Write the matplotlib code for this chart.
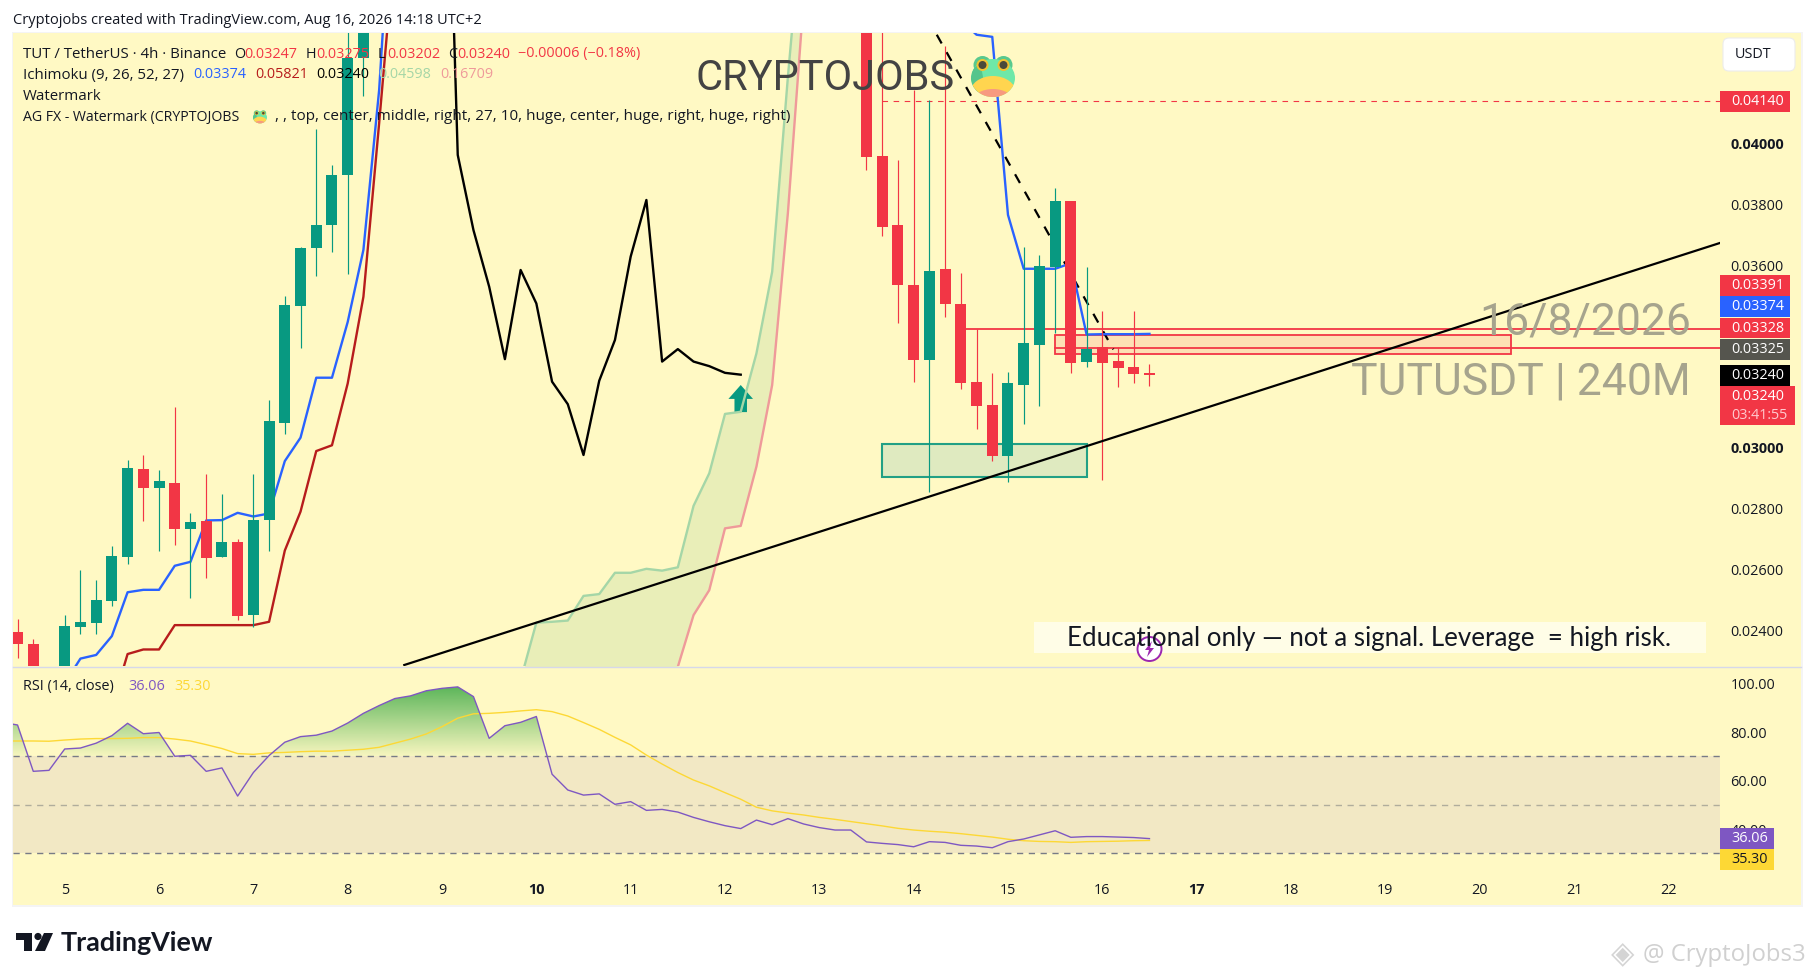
import matplotlib
matplotlib.use('Agg')
import matplotlib.pyplot as plt
import numpy as np
from matplotlib.patches import Rectangle, Ellipse, Circle, Polygon, FancyBboxPatch
from matplotlib.path import Path

plt.rcParams['font.family'] = ['Open Sans', 'DejaVu Sans']

W, H = 1814, 980
GREEN, RED = '#089981', '#f23645'
PANEL = '#fff9c4'
INK = '#131722'

# candles (bar 0 = Aug 5 00:00, 4h bars), only the ones that show on screen
barIdx = [-3, -2, -1, 0, 1, 2, 3, 4, 5, 6, 7, 8, 9, 10, 11, 12, 13, 14, 15, 16, 17, 18, 19,
          51, 52, 53, 54, 55, 56, 57, 58, 59, 60, 61, 62, 63, 64, 65, 66, 67, 68, 69]
opens = [.02394, .02355, .0222, .0226, .02412, .02425, .02497, .02642, .0293, .02869, .02884, .02734, .02759,
         .02642, .0269, .0245, .02764, .03082, .03467, .03657, .03732, .03896, .0428,
         .0460, .03958, .03732, .03535, .03288, .03587, .03472, .03216, .0314, .02974, .03206, .03337, .03594,
         .03811, .03283, .0333, .03285, .03265, .03247]
closes = [.02356, .0226, .0225, .02414, .02427, .025, .02644, .02933, .02869, .02891, .02734, .02756, .02639,
          .0269, .02448, .02762, .03088, .03469, .03657, .03732, .03896, .0428, .0455,
          .03956, .03726, .03535, .03288, .0358, .03472, .03214, .03138, .02974, .03212, .03344, .03597, .03811,
          .03279, .03324, .03279, .03263, .03243, .0324]
highs = [.02436, .02371, .0226, .0245, .02598, .02565, .02677, .0296, .02976, .02927, .03134, .02785, .02914,
         .02848, .027, .02914, .03157, .03498, .0366, .04047, .03929, .0443, .046,
         .047, .0445, .03945, .04175, .04142, .0432, .03573, .0339, .03244, .03249, .03658, .03633, .03852,
         .03811, .03594, .03449, .03332, .03449, .03275]
lows = [.0231, .0222, .0218, .0224, .02389, .02389, .02481, .02619, .02759, .02661, .0268, .02506, .02572,
        .02642, .02434, .02412, .02659, .03046, .03328, .03565, .03644, .03571, .04156,
        .03912, .03697, .03411, .03217, .02855, .0343, .03192, .03062, .02957, .02888, .03079, .03138, .03378,
        .03246, .03266, .02894, .032, .03214, .03202]

# ichimoku
tenkanBars = [0, 1, 2, 3, 4, 5, 6, 7, 8, 9, 10, 11, 12, 13, 14, 15, 16, 17, 18, 19, 20, 21]
tenkan = [.02226, .02307, .02319, .02381, .02525, .02533, .02533, .02612, .02625, .02761, .02762, .02786,
          .02774, .02784, .02956, .03033, .0323, .0323, .03413, .0365, .04175, .05]
tenkanBars2 = [57, 58, 59, 60, 61, 62, 63, 64, 65, 66, 67, 68, 69]
tenkan2 = [.04405, .04357, .0435, .03765, .03588, .03588, .03588, .03606, .03372, .03373, .03373, .03373, .03374]
kijunBars = [3, 4, 5, 6, 7, 8, 9, 10, 11, 12, 13, 14, 15, 16, 17, 18, 19, 20, 21]
kijun = [.02149, .02322, .02337, .02337, .02417, .02417, .02417, .02417, .02417, .02417, .02428, .02662,
         .0279, .02989, .03008, .03211, .03496, .04066, .0466]
chikouBars = [24, 25, 26, 27, 28, 29, 30, 31, 32, 33, 34, 35, 36, 37, 38, 39, 40, 41, 42, 43]
chikou = [.0568, .03962, .03715, .03529, .03291, .03584, .03474, .03217, .03143, .02976, .0322, .03354,
          .03628, .03814, .03283, .03324, .03283, .03268, .03246, .0324]
spanBars = [29, 30, 31, 32, 33, 34, 35, 36, 37, 38, 39, 40, 41, 42, 43, 44, 45, 46, 47]
spanA = [.02237, .02425, .02428, .02432, .02513, .02519, .02589, .02589, .02602, .02596, .02607, .02809,
         .02916, .03111, .03118, .0331, .03578, .04218, .048]
spanB = [.0215, .0215, .0215, .0215, .0215, .0215, .0215, .0215, .0215, .0222, .0228, .0245, .02532, .02735,
         .02743, .02938, .03206, .03771, .04471]

# rsi, bars -4 to 69
rsiBars = list(range(-4, 70))
rsi = [84, 82.9, 63.8, 64.2, 73, 73.4, 75.4, 78.5, 83.6, 79.3, 79.8, 70, 70.4, 63.8, 65.2, 53.6, 63.3, 70.3,
       75.8, 78.1, 78.7, 80.4, 83.7, 87.7, 90.9, 93.8, 94.9, 97, 98, 98.6, 94.6, 77.4, 82.6, 84, 86.4, 62.6,
       56.1, 54, 54.5, 50.2, 51.3, 47.7, 48.1, 47, 44.8, 43, 41.4, 40.2, 43.7, 41.8, 44.3, 42.1, 40.6, 39.6,
       39.6, 34.7, 34.1, 33.6, 32.7, 34.8, 34.5, 33.3, 33, 32.3, 34.8, 35.9, 37.6, 39.3, 36.6, 36.9, 36.9,
       36.7, 36.5, 36.06]
rsiMa = [76.3, 76.3, 76.3, 76.2, 76.7, 77.1, 77.3, 77.3, 77.4, 77.7, 77.7, 77.1, 76.3, 74.8, 73.2, 71.1, 70.8,
         71.4, 71.6, 71.9, 72.1, 72.1, 72.5, 72.9, 73.7, 75.4, 77.1, 79.2, 82.2, 85.7, 87.5, 87.7, 88.1, 88.7,
         89.2, 88.4, 86.6, 83.9, 81.1, 77.8, 74.7, 70.5, 66.8, 63.3, 60.2, 57.8, 55, 52.3, 49, 47.5, 46.6, 45.8,
         44.8, 44, 43.1, 42.2, 41.3, 40.3, 39.6, 39.1, 38.7, 38.1, 37.4, 36.7, 35.8, 35.2, 34.9, 34.8, 34.5,
         34.8, 34.9, 35, 35.2, 35.3]

# drawings
trendBars, trendPrices = [21.6, 105.3], [.02286, .03673]
dashBars, dashPrices = [55.47, 66.7], [.04357, .03323]
level414 = .0414
levelTop, levelLow = .0339, .03328
orangeBox = (63, 92, .03308, .0337)
greenBox = (52, 65, .02904, .03012)

# axis labels
days = [5, 6, 7, 8, 9, 10, 11, 12, 13, 14, 15, 16, 17, 18, 19, 20, 21, 22]
boldDays = [10, 17]
priceTicks = [.024, .026, .028, .030, .036, .038, .040]
boldPrices = [.030, .040]
rsiTicks = [40, 60, 80, 100]
# text, colour, top px, bottom px
priceTags = [('0.04140', RED, 91, 112), ('0.03391', RED, 275, 295.7), ('0.03374', '#2962ff', 295.7, 316.7),
             ('0.03328', RED, 317.7, 338.3), ('0.03325', '#55554e', 339.3, 360), ('0.03240', '#000000', 365, 386)]


def axesAt(left, top, right, bottom, **kw):
    return fig.add_axes([left / W, 1 - bottom / H, (right - left) / W, (bottom - top) / H], **kw)


fig = plt.figure(figsize=(W / 100, H / 100), dpi=100, facecolor='white')

# background layer, everything is in pixels here
bg = axesAt(0, 0, W, H, zorder=0)
bg.set_xlim(0, W)
bg.set_ylim(H, 0)
bg.axis('off')
bg.add_patch(Rectangle((12, 32), 1791, 875, fc='#f4f4f4', ec='none'))
bg.add_patch(Rectangle((13, 33), 1788, 872, fc=PANEL, ec='none'))

xMin, xMax = -3.289, 105.29
ax = axesAt(13, 33, 1720, 666, zorder=1)
ax.set_facecolor('none')
ax.set_xlim(xMin, xMax)
ax.set_ylim(.022827, .043627)
for s in ax.spines.values():
    s.set_visible(False)
ax.set_xticks([])
ax.yaxis.tick_right()
ax.set_yticks(priceTicks)
ax.set_yticklabels(['%.5f' % p for p in priceTicks], fontsize=10.4, color=INK)
ax.tick_params(axis='y', length=0, pad=7.5)
for lab, p in zip(ax.get_yticklabels(), priceTicks):
    if p in boldPrices:
        lab.set_fontweight('bold')

# cloud
ax.fill_between(spanBars, spanA, spanB, color='#e9eeb8', lw=0, zorder=1)
ax.plot(spanBars, spanB, color='#ef9a9a', lw=1.7, zorder=2.2)
ax.plot(spanBars, spanA, color='#a5d6a7', lw=1.7, zorder=2.2)
ax.plot(chikouBars, chikou, color='black', lw=1.7, zorder=2)
ax.plot(kijunBars, kijun, color='#b71c1c', lw=1.7, zorder=2)
ax.plot(tenkanBars, tenkan, color='#2962ff', lw=1.7, zorder=2)
ax.plot(tenkanBars2, tenkan2, color='#2962ff', lw=1.7, zorder=2)

# boxes and levels
ax.add_patch(Rectangle((greenBox[0], greenBox[2]), greenBox[1] - greenBox[0], greenBox[3] - greenBox[2],
                       fc='#dfeac0', ec='#22a085', lw=1.5, zorder=1.5))
ax.add_patch(Rectangle((orangeBox[0], orangeBox[2]), orangeBox[1] - orangeBox[0], orangeBox[3] - orangeBox[2],
                       fc='#fde0b4', ec=RED, lw=1.3, zorder=1.5))
ax.plot([52, xMax], [level414, level414], color=RED, lw=.8, dashes=(5, 5), zorder=1.8)
ax.plot([57.3, xMax], [levelTop, levelTop], color=RED, lw=1.3, zorder=1.8)
ax.plot([63, xMax], [levelLow, levelLow], color=RED, lw=1.3, zorder=1.8)
ax.plot(dashBars, dashPrices, color='black', lw=1.6, dashes=(4.5, 4.5), zorder=1.9)
ax.plot(trendBars, trendPrices, color='black', lw=1.6, zorder=3.5)

# arrow from the chart drawings
arrow = ax.annotate('', xy=(43, .03206), xytext=(43, .03117),
                    arrowprops=dict(width=9, headwidth=17.7, headlength=10, shrink=0, fc=GREEN, ec='none'))
arrow.set_zorder(1.9)

# candles
for i, o, c, h, l in zip(barIdx, opens, closes, highs, lows):
    col = GREEN if c >= o else RED
    ax.vlines(i, l, h, color=col, lw=.85, zorder=3)
    ax.bar(i, abs(c - o), bottom=min(o, c), width=.7, color=col, lw=0, zorder=3)

# rsi pane
rx = axesAt(13, 667, 1720, 872, zorder=1)
rx.set_facecolor('none')
rx.set_xlim(xMin, xMax)
rx.set_ylim(22.3, 106.8)
for s in rx.spines.values():
    s.set_visible(False)
rx.axhspan(30, 70, color='#f2e8c4', lw=0, zorder=1)
for lvl, col in [(70, '#787b86'), (50, '#b0ad9c'), (30, '#787b86')]:
    rx.axhline(lvl, color=col, lw=1, dashes=(4.5, 4), zorder=1.5)

rsiArr = np.array(rsi)
poly = rx.fill_between(rsiBars, 70, rsiArr, where=rsiArr >= 70, interpolate=True, fc='none', lw=0)
grad = np.zeros((100, 2, 4))
grad[..., 0] = 76 / 255
grad[..., 1] = 175 / 255
grad[..., 2] = 80 / 255
grad[..., 3] = np.linspace(.95, .05, 100)[:, None]
img = rx.imshow(grad, extent=[xMin, xMax, 70, 100], origin='upper', aspect='auto', zorder=2)
clip = Path.make_compound_path(*poly.get_paths())
img.set_clip_path(clip, transform=rx.transData)
rx.set_xlim(xMin, xMax)
rx.set_ylim(22.3, 106.8)

rx.plot(rsiBars, rsiMa, color='#fdd835', lw=1, zorder=3)
rx.plot(rsiBars, rsi, color='#7e57c2', lw=1, zorder=3.2)

rx.yaxis.tick_right()
rx.set_yticks(rsiTicks)
rx.set_yticklabels(['%.2f' % v for v in rsiTicks], fontsize=10.4, color=INK)
rx.tick_params(axis='y', length=0, pad=7.5)
rx.set_xticks([(d - 5) * 6 for d in days])
rx.set_xticklabels([str(d) for d in days], fontsize=10.4, color=INK)
rx.tick_params(axis='x', length=0, pad=8)
for lab, d in zip(rx.get_xticklabels(), days):
    if d in boldDays:
        lab.set_fontweight('bold')

# top layer for the texts and the tags
top = axesAt(0, 0, W, H, zorder=5)
top.set_xlim(0, W)
top.set_ylim(H, 0)
top.axis('off')
top.set_facecolor('none')


def put(x, y, s, size=10.4, color=INK, ha='left', **kw):
    return top.text(x, y, s, fontsize=size, color=color, ha=ha, va='center', **kw)


def frog(cx, cy, w):
    # the frog emoji of the watermark, w = width in pixels
    k = w / 44.0
    for dx in (-10.5, 10.5):
        top.add_patch(Circle((cx + dx * k, cy - 12 * k), 9 * k, fc='#58c98e', ec='none'))
    head = Ellipse((cx, cy + 1 * k), 44 * k, 38 * k, fc='#6fe8a8', ec='none')
    top.add_patch(head)
    side = Ellipse((cx - 16 * k, cy + 2 * k), 12 * k, 26 * k, fc='#55c58c', ec='none')
    top.add_patch(side)
    side.set_clip_path(head)
    belly = Ellipse((cx, cy + 16 * k), 46 * k, 34 * k, fc='#ffd54f', ec='none')
    top.add_patch(belly)
    belly.set_clip_path(head)
    low = Ellipse((cx, cy + 24 * k), 40 * k, 24 * k, fc='#f79a80', ec='none')
    top.add_patch(low)
    low.set_clip_path(head)
    for dx in (-10.5, 10.5):
        top.add_patch(Circle((cx + dx * k, cy - 12 * k), 6 * k, fc='#f2c230', ec='none'))
        top.add_patch(Circle((cx + dx * k, cy - 12 * k), 4 * k, fc='#4a4a3a', ec='none'))


put(13, 20, 'Cryptojobs created with TradingView.com, Aug 16, 2026 14:18 UTC+2', size=10.5)

# legend rows
put(23, 54, 'TUT / TetherUS · 4h · Binance', size=10.8)
for x, s in [(234, 'O'), (306, 'H'), (378, 'L'), (448, 'C')]:
    put(x, 54, s)
for x, s in [(244, '0.03247'), (316, '0.03275'), (387, '0.03202'), (457, '0.03240'),
             (518, '−0.00006 (−0.18%)')]:
    put(x, 54, s, color=RED)
put(23, 75, 'Ichimoku (9, 26, 52, 27)', size=10.8)
for x, s, c in [(193, '0.03374', '#2962ff'), (255, '0.05821', '#b71c1c'), (316, '0.03240', 'black'),
                (378, '0.04598', '#a5d6a7'), (440, '0.16709', '#ef9a9a')]:
    put(x, 75, s, color=c)
put(23, 96, 'Watermark', size=10.8)
put(23, 117, 'AG FX - Watermark (CRYPTOJOBS', size=10.2)
frog(260, 117, 14)
put(275, 117, ', , top, center, middle, right, 27, 10, huge, center, huge, right, huge, right)', size=10.95)

put(696, 78, 'CRYPTOJOBS', size=30, color='#434343', family='Roboto')
frog(993, 77, 44)
put(1691, 322, '16/8/2026', size=32, color='#a6a48d', ha='right', family='Roboto')
put(1691, 382, 'TUTUSDT | 240M', size=32, color='#a6a48d', ha='right', family='Roboto')

put(23, 686.5, 'RSI (14, close)')
put(128, 686.5, '36.06', color='#7e57c2')
put(174, 686.5, '35.30', color='#fdd835')

# note box
top.add_patch(Rectangle((1034, 622), 672, 31, fc='#fffde7', ec='none'))
put(1369, 638, 'Educational only — not a signal. Leverage  = high risk.', size=18.6, color='#131722', ha='center',
    family='Lato')
top.add_patch(Circle((1149.5, 649), 12, fc='white', ec='#9c27b0', lw=1.4))
top.add_patch(Polygon([(1152, 641), (1145, 650), (1149, 650), (1147, 657), (1154, 648), (1150, 648)],
                      fc='#9c27b0', ec='none'))

# price tags
top.add_patch(FancyBboxPatch((1725, 40), 68, 29, boxstyle='round,pad=2,rounding_size=6', fc='white',
                             ec='#ececec', lw=.8))
put(1735, 54, 'USDT')
for s, c, y0, y1 in priceTags:
    top.add_patch(Rectangle((1720, y0), 70, y1 - y0, fc=c, ec='none'))
    put(1731, (y0 + y1) / 2, s, color='white')
top.add_patch(Rectangle((1720, 386), 75, 39, fc=RED, ec='none'))
put(1731, 396, '0.03240', color='white')
put(1731, 415, '03:41:55', color='#ffc9ce')
top.add_patch(Rectangle((1720, 828), 54, 21, fc='#7e57c2', ec='none'))
put(1731, 838.5, '36.06', color='white')
top.add_patch(Rectangle((1720, 849), 54, 21, fc='#fdd835', ec='none'))
put(1731, 859.5, '35.30')

# separator between panes
top.plot([13, 1801], [666.5, 666.5], color='#d6d8ea', lw=1)

# logo
top.add_patch(Polygon([(15.5, 933), (32, 933), (32, 951), (24, 951), (24, 940), (15.5, 940)], fc='#131722', ec='none'))
top.add_patch(Circle((38, 936.5), 3.6, fc='#131722', ec='none'))
top.add_patch(Polygon([(44, 933), (53, 933), (45, 951), (35, 951)], fc='#131722', ec='none'))
put(61, 943, 'TradingView', size=19.4, color='#131722', fontweight='bold', family='Lato')

# site mark
put(1623, 955, '◈', size=22, color='#d4d4d4', ha='center', family='DejaVu Sans')
put(1643, 955, '@ CryptoJobs3', size=17.2, color='#d0d0d0')

fig.savefig('out.png', dpi=100)
